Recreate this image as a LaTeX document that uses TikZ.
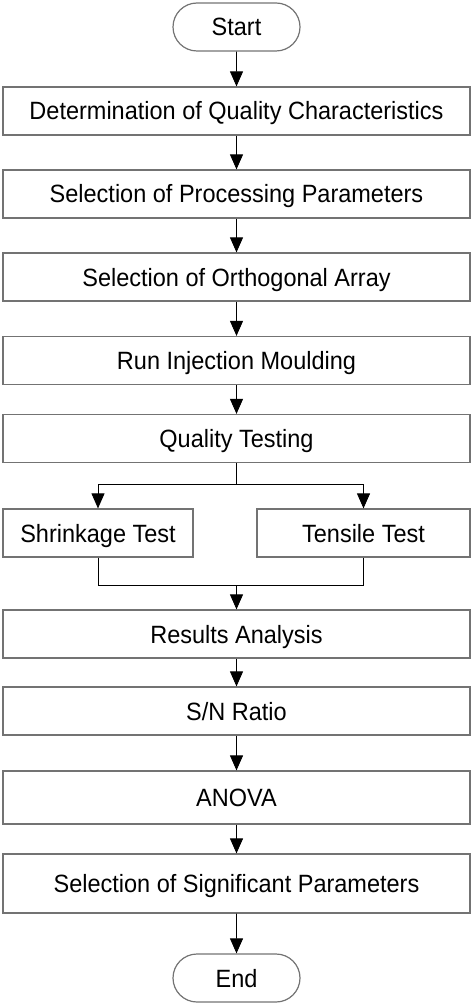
\documentclass[tikz,border=0pt]{standalone}
\usepackage{fontspec}
\setmainfont[FakeStretch=0.94]{Liberation Sans}
\usetikzlibrary{arrows.meta,shapes.misc}

\def\boxwidth{467pt}

\begin{document}
\begin{tikzpicture}[x=1pt,y=-1pt,font=\fontsize{25}{28}\selectfont]
    \tikzstyle{stepbox}=[rectangle,draw=black!55,line width=1.2pt,minimum width=\boxwidth,minimum height=48pt,inner sep=0pt,text height=18pt,text depth=0pt]
    \tikzstyle{terminal}=[rounded rectangle,draw=black!55,line width=1.2pt,minimum width=127pt,minimum height=48pt,inner sep=0pt,text height=18pt,text depth=0pt]
    \tikzstyle{flow}=[-{Triangle[width=13pt,length=15pt]},draw=black,line width=0.9pt]
    \tikzstyle{link}=[draw=black,line width=0.9pt]

    \useasboundingbox (0,0) rectangle (474,1008);

    % Draw the start node
    \node[terminal] (start) at (236.5,27) {Start};

    % Draw the main steps
    \node[stepbox] (char) at (236.5,111) {Determination of Quality Characteristics};
    \node[stepbox] (param) at (236.5,194) {Selection of Processing Parameters};
    \node[stepbox] (array) at (236.5,277) {Selection of Orthogonal Array};
    \node[stepbox] (run) at (236.5,360.5) {Run Injection Moulding};
    \node[stepbox] (quality) at (236.5,438.5) {Quality Testing};

    % Draw the two tests
    \node[stepbox,minimum width=190pt] (shrink) at (98,533) {Shrinkage Test};
    \node[stepbox,minimum width=213pt] (tensile) at (363.5,533) {Tensile Test};

    % Draw the analysis steps
    \node[stepbox] (results) at (236.5,634) {Results Analysis};
    \node[stepbox] (ratio) at (236.5,711) {S/N Ratio};
    \node[stepbox,minimum height=53pt] (anova) at (236.5,797.5) {ANOVA};
    \node[stepbox,minimum height=59pt] (signif) at (236.5,883.5) {Selection of Significant Parameters};

    % Draw the end node
    \node[terminal] (end) at (236.5,978) {End};

    % Connect the steps one after the other
    \draw[flow] (start) -- (char);
    \draw[flow] (char) -- (param);
    \draw[flow] (param) -- (array);
    \draw[flow] (array) -- (run);
    \draw[flow] (run) -- (quality);

    % Split to the tests and join again
    \coordinate (split) at (236.5,484);
    \coordinate (join) at (236.5,585);
    \draw[link] (quality) -- (split);
    \draw[flow] (split) -| (shrink);
    \draw[flow] (split) -| (tensile);
    \draw[link] (shrink) |- (join);
    \draw[link] (tensile) |- (join);
    \draw[flow] (join) -- (results);

    \draw[flow] (results) -- (ratio);
    \draw[flow] (ratio) -- (anova);
    \draw[flow] (anova) -- (signif);
    \draw[flow] (signif) -- (end);
\end{tikzpicture}
\end{document}
